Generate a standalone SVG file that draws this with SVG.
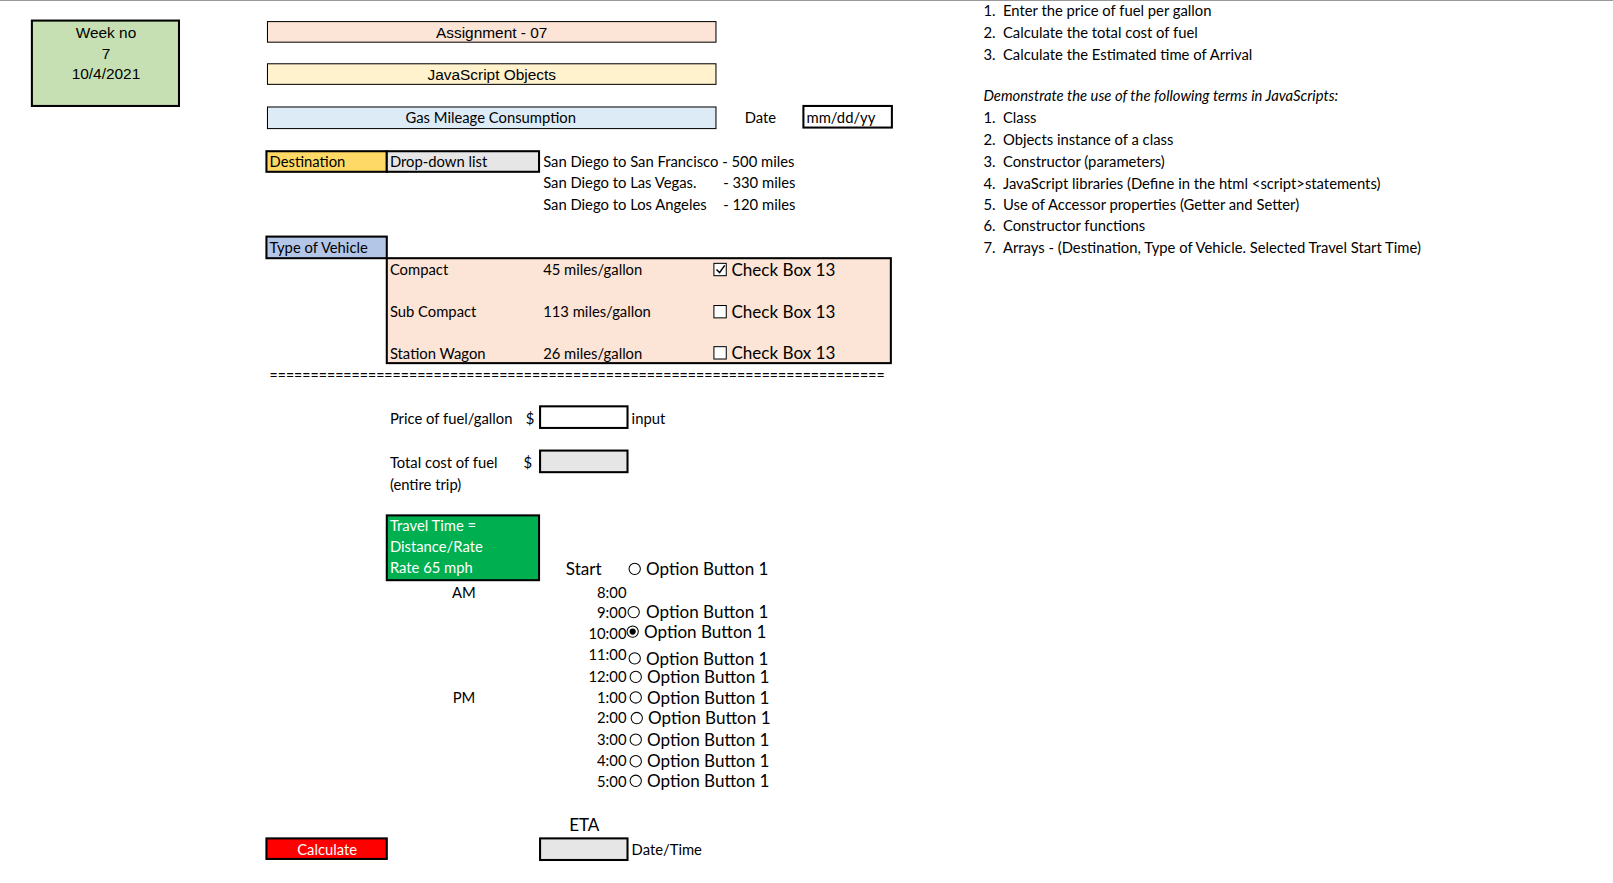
<svg xmlns="http://www.w3.org/2000/svg" width="1613" height="883" viewBox="0 0 1613 883">
<style>
text{font-family:Lato,"Noto Sans",sans-serif;font-size:14.4px;fill:#000}
.a{font-family:"Liberation Sans",Arial,sans-serif;font-size:15px}
.o{font-size:16.6px}
.c{text-anchor:middle}
.r{text-anchor:end}
.w{fill:#fff}
.b{stroke:#000;stroke-width:1}
.t{stroke:#000;stroke-width:2}
.rb{fill:#fff;stroke:#000;stroke-width:1}
</style>
<rect width="1613" height="883" fill="#fff"/>
<line x1="0" y1="0.5" x2="1613" y2="0.5" stroke="#999"/>
<g transform="scale(1.0287)">
<g id="week"><rect x="31" y="20" width="143" height="83" fill="#c6e0b4" class="t"/>
<text class="a c" x="103" y="37">Week no</text><text class="a c" x="103" y="57">7</text><text class="a c" x="103" y="77">10/4/2021</text></g>
<g id="assign"><rect x="260" y="21" width="436" height="20" fill="#fce4d6" class="b"/><text class="a c" x="478" y="37">Assignment - 07</text></g>
<g id="jso"><rect x="260" y="62" width="436" height="20" fill="#fff2cc" class="b"/><text class="a c" x="478" y="78">JavaScript Objects</text></g>
<g id="gas"><rect x="260" y="104" width="436" height="21" fill="#ddebf7" class="b"/><text class="c" x="477" y="120">Gas Mileage Consumption</text></g>
<g id="date"><text x="724" y="120">Date</text><rect x="781" y="103" width="86" height="21" fill="#fff" class="t"/><text x="784" y="120">mm/dd/yy</text></g>
<g id="dest"><rect x="259" y="147" width="117" height="20" fill="#ffd966" class="t"/><text x="262" y="162">Destination</text>
<rect x="376" y="147" width="148" height="20" fill="#e7e6e6" class="t"/><text x="379" y="162">Drop-down list</text>
<text x="528" y="162">San Diego to San Francisco - 500 miles</text>
<text x="528" y="183">San Diego to Las Vegas.</text><text x="703" y="183">- 330 miles</text>
<text x="528" y="204">San Diego to Los Angeles</text><text x="703" y="204">- 120 miles</text></g>
<g id="vehicle"><rect x="259" y="230" width="117" height="21" fill="#b4c6e7" class="t"/><text x="262" y="246">Type of Vehicle</text>
<rect x="376" y="251" width="490" height="102" fill="#fce4d6" class="t"/>
<text x="379" y="267">Compact</text><text x="528" y="267">45 miles/gallon</text>
<text x="379" y="308">Sub Compact</text><text x="528" y="308">113 miles/gallon</text>
<text x="379" y="349">Station Wagon</text><text x="528" y="349">26 miles/gallon</text>
<rect x="694" y="256" width="12" height="12" class="rb"/><path d="M696.5 262l3 3 5-7" fill="none" stroke="#000" stroke-width="1.5"/>
<rect x="694" y="297" width="12" height="12" class="rb"/><rect x="694" y="337" width="12" height="12" class="rb"/>
<text class="o" x="711" y="268">Check Box 13</text><text class="o" x="711" y="309">Check Box 13</text><text class="o" x="711" y="349">Check Box 13</text></g>
<text x="262" y="370" textLength="598" lengthAdjust="spacingAndGlyphs">===========================================================================</text>
<g id="price"><text x="379" y="412">Price of fuel/gallon</text><text x="511" y="412">$</text><rect x="525" y="395" width="85" height="21" fill="#fff" class="t"/><text x="614" y="412">input</text></g>
<g id="total"><text x="379" y="455">Total cost of fuel</text><text x="379" y="476">(entire trip)</text><text x="509" y="455">$</text><rect x="525" y="438" width="85" height="21" fill="#e7e6e6" class="t"/></g>
<g id="travel"><rect x="376" y="501" width="148" height="63" fill="#00b050" class="t"/>
<text x="379" y="516" class="w">Travel Time =</text><text x="379" y="537" class="w">Distance/Rate</text><text x="379" y="557" class="w">Rate 65 mph</text></g>
<g id="times">
<text class="o" x="550" y="559">Start</text>
<text class="c" x="451" y="581">AM</text><text class="c" x="451" y="683">PM</text>
<text class="r" x="609" y="581">8:00</text>
<text class="r" x="609" y="601">9:00</text>
<text class="r" x="609" y="621">10:00</text>
<text class="r" x="609" y="642">11:00</text>
<text class="r" x="609" y="663">12:00</text>
<text class="r" x="609" y="683">1:00</text>
<text class="r" x="609" y="703">2:00</text>
<text class="r" x="609" y="724">3:00</text>
<text class="r" x="609" y="745">4:00</text>
<text class="r" x="609" y="765">5:00</text>
<circle cx="617" cy="553" r="5.5" class="rb"/><text class="o" x="628" y="559">Option Button 1</text>
<circle cx="616" cy="595" r="5.5" class="rb"/><text class="o" x="628" y="601">Option Button 1</text>
<circle cx="615" cy="614" r="5.5" class="rb"/><circle cx="615" cy="614" r="3" fill="#000"/><text class="o" x="626" y="620">Option Button 1</text>
<circle cx="617" cy="640" r="5.5" class="rb"/><text class="o" x="628" y="646">Option Button 1</text>
<circle cx="618" cy="658" r="5.5" class="rb"/><text class="o" x="629" y="664">Option Button 1</text>
<circle cx="618" cy="678" r="5.5" class="rb"/><text class="o" x="629" y="684">Option Button 1</text>
<circle cx="619" cy="698" r="5.5" class="rb"/><text class="o" x="630" y="704">Option Button 1</text>
<circle cx="618" cy="719" r="5.5" class="rb"/><text class="o" x="629" y="725">Option Button 1</text>
<circle cx="618" cy="740" r="5.5" class="rb"/><text class="o" x="629" y="746">Option Button 1</text>
<circle cx="618" cy="759" r="5.5" class="rb"/><text class="o" x="629" y="765">Option Button 1</text></g>
<g id="calc"><rect x="259" y="815" width="117" height="20" fill="#ff0000" class="t"/><text class="c w" x="318" y="831">Calculate</text></g>
<g id="eta"><text class="o c" x="568" y="808">ETA</text><rect x="525" y="815" width="85" height="21" fill="#e7e6e6" class="t"/><text x="614" y="831">Date/Time</text></g>
<g id="notes">
<text x="956" y="16">1.</text><text x="975" y="16">Enter the price of fuel per gallon</text>
<text x="956" y="37">2.</text><text x="975" y="37">Calculate the total cost of fuel</text>
<text x="956" y="58">3.</text><text x="975" y="58">Calculate the Estimated time of Arrival</text>
<text x="956" y="98" font-style="italic">Demonstrate the use of the following terms in JavaScripts:</text>
<text x="956" y="120">1.</text><text x="975" y="120">Class</text>
<text x="956" y="141">2.</text><text x="975" y="141">Objects instance of a class</text>
<text x="956" y="162">3.</text><text x="975" y="162">Constructor (parameters)</text>
<text x="956" y="184">4.</text><text x="975" y="184">JavaScript libraries (Define in the html &lt;script&gt;statements)</text>
<text x="956" y="204">5.</text><text x="975" y="204">Use of Accessor properties (Getter and Setter)</text>
<text x="956" y="225">6.</text><text x="975" y="225">Constructor functions</text>
<text x="956" y="246">7.</text><text x="975" y="246">Arrays - (Destination, Type of Vehicle. Selected Travel Start Time)</text></g>
</g>
</svg>
